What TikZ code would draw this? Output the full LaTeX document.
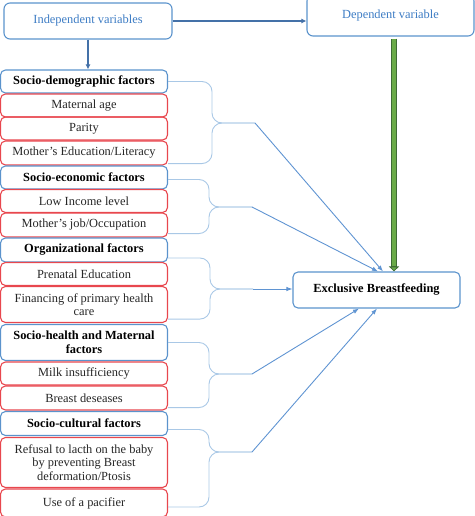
\documentclass[tikz,border=0pt]{standalone}
\usepackage{fontspec}
\setmainfont{Liberation Serif}
\usetikzlibrary{arrows.meta,calc,positioning}
\definecolor{boxblue}{HTML}{5B93CC}
\definecolor{boxred}{HTML}{E8474E}
\definecolor{txtblue}{HTML}{3D7CC4}
\definecolor{bracecol}{HTML}{A9C8E6}
\definecolor{arrowblue}{HTML}{5F94D2}
\definecolor{barfill}{HTML}{6AAA48}
\definecolor{barline}{HTML}{3E6B35}
\definecolor{topline}{HTML}{4471A8}

\begin{document}
\begin{tikzpicture}[x=1pt,y=-1pt,
  every node/.style={font=\fontsize{12.4}{13.5}\selectfont, inner sep=0pt, align=center},
  head/.style={draw=boxblue, line width=1.1pt, rounded corners=5pt, minimum width=167pt, font=\fontsize{12.4}{13.5}\selectfont\bfseries},
  item/.style={draw=boxred, line width=1.1pt, rounded corners=5pt, minimum width=167pt, text=black!85},
  var/.style={draw=boxblue, line width=1.1pt, rounded corners=6pt, text=txtblue},
  bracket/.style={draw=bracecol, line width=0.9pt, rounded corners=10pt},
  link/.style={draw=arrowblue, line width=0.9pt, -{Latex[length=6pt,width=4.5pt]}},
  main/.style={draw=topline, line width=2pt, -{Latex[length=5pt,width=5pt]}},
  greenbar/.style={draw=barline, line width=6pt, -{Triangle[length=5pt,width=10pt,line width=0.8pt,fill=barfill]},
    postaction={draw=barfill, line width=4.2pt, -, shorten >=5pt, shorten <=0.9pt}}]
\useasboundingbox (0,0) rectangle (474,516);

% variables
\node[var, minimum width=168pt, minimum height=36pt] (ind) at (88,21) {Independent variables};
\node[var, minimum width=167pt, minimum height=41pt] (dep) at (390.5,15.5) {Dependent variable};
\node[head, minimum height=36pt, draw=boxblue] (ebf) at (376.5,290) {Exclusive Breastfeeding};

% factors
\node[head, minimum height=23pt] (sd) at (84,81.5) {Socio-demographic factors};
\node[item, minimum height=23pt] (ma) at (84,105.5) {Maternal age};
\node[item, minimum height=23pt] (par) at (84,128.5) {Parity};
\node[item, minimum height=24pt] (edu) at (84,153) {Mother’s Education/Literacy};
\node[head, minimum height=23pt] (se) at (84,177.5) {Socio-economic factors};
\node[item, minimum height=23pt] (inc) at (84,201) {Low Income level};
\node[item, minimum height=24pt] (job) at (84,225) {Mother’s job/Occupation};
\node[head, minimum height=24pt] (org) at (84,250) {Organizational factors};
\node[item, minimum height=23pt] (pre) at (84,274) {Prenatal Education};
\node[item, minimum height=36pt] (fin) at (84,304.5) {Financing of primary health\\care};
\node[head, minimum height=36pt] (sh) at (84,342.5) {Socio-health and Maternal\\factors};
\node[item, minimum height=23pt] (milk) at (84,373.5) {Milk insufficiency};
\node[item, minimum height=24pt] (bd) at (84,398) {Breast deseases};
\node[head, minimum height=24pt] (sc) at (84,423.5) {Socio-cultural factors};
\node[item, minimum height=50pt] (ref) at (84,462.5) {Refusal to lacth on the baby\\by preventing Breast\\deformation/Ptosis};
\node[item, minimum height=28pt] (pac) at (84,503) {Use of a pacifier};

% top arrows
\draw[main] (ind.east) -- (ind.east -| dep.west);
\draw[main] (ind.south) -- (ind.south |- sd.north);
\draw[greenbar] ([xshift=3.5pt,yshift=-2pt]dep.south) -- ([xshift=17.5pt]ebf.north);

% brackets
\coordinate (t1) at (255,123);
\coordinate (t2) at (252,207);
\coordinate (t3) at (253,289);
\coordinate (t4) at (252,374);
\coordinate (t5) at (252,452);
\draw[bracket] (sd.east) -| ($(t1)+(-43,0)$) -- (t1);
\draw[bracket] ([yshift=2pt]edu.south east) -| ($(t1)+(-43,0)$) -- (t1);
\draw[bracket] ([yshift=-2pt]se.east) -| ($(t2)+(-43,0)$) -- (t2);
\draw[bracket] ([yshift=4pt]job.south east) -| ($(t2)+(-43,0)$) -- (t2);
\draw[bracket] ([yshift=-8pt]org.east) -| ($(t3)+(-43,0)$) -- (t3);
\draw[bracket] ([yshift=4pt]fin.south east) -| ($(t3)+(-43,0)$) -- (t3);
\draw[bracket] (sh.east) -| ($(t4)+(-43,0)$) -- (t4);
\draw[bracket] ([yshift=3pt]bd.south east) -| ($(t4)+(-43,0)$) -- (t4);
\draw[bracket] ([yshift=-6pt]sc.east) -| ($(t5)+(-43,0)$) -- (t5);
\draw[bracket] ([yshift=-4pt]pac.east) -| ($(t5)+(-43,0)$) -- (t5);

% links to outcome
\draw[link] (t1) -- ([xshift=6.5pt]ebf.north);
\draw[link] (t2) -- ([xshift=1.5pt]ebf.north);
\draw[link] (t3) -- (t3 -| ebf.west);
\draw[link] (t4) -- ([xshift=-17.5pt]ebf.south);
\draw[link] (t5) -- ([xshift=0.5pt]ebf.south);
\end{tikzpicture}
\end{document}
